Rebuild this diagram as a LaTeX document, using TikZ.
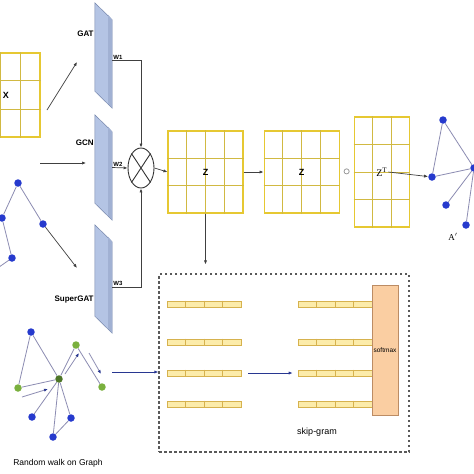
\documentclass[tikz,border=0pt]{standalone}
\usepackage{fontspec}
\setmainfont{Liberation Sans}
\newfontfamily\serifface{Liberation Serif}
\usetikzlibrary{%
    arrows.meta,
    positioning,
    calc,
    shapes.geometric
}

\definecolor{gridgold}{RGB}{230,200,50}
\definecolor{barfill}{RGB}{252,236,170}
\definecolor{baredge}{RGB}{214,178,78}
\definecolor{plateface}{RGB}{180,196,228}
\definecolor{plateedge}{RGB}{118,134,172}
\definecolor{nodeblue}{RGB}{38,58,205}
\definecolor{nodegreen}{RGB}{122,176,62}
\definecolor{hubgreen}{RGB}{78,118,40}
\definecolor{edgegray}{RGB}{140,140,178}
\definecolor{softfill}{RGB}{250,206,162}
\definecolor{softedge}{RGB}{188,140,100}
\definecolor{walkblue}{RGB}{40,55,145}

\begin{document}
\begin{tikzpicture}[x=1pt, y=-1pt,
      mat/.style={rectangle, draw=gridgold, line width=1.1pt, inner sep=0pt,
                  font=\bfseries\fontsize{9}{10}\selectfont},
      cell/.style={draw=gridgold!80!gray, line width=0.8pt},
      platebox/.style={rectangle, inner sep=0pt, minimum width=17pt},
      plate/.style={fill=plateface, draw=plateedge, line width=0.5pt},
      lbl/.style={font=\bfseries\fontsize{8}{9}\selectfont, inner sep=1pt},
      wlbl/.style={font=\bfseries\fontsize{6}{7}\selectfont, inner sep=1pt},
      wire/.style={draw=black!75, line width=0.7pt},
      arr/.style={-{Latex[length=4pt,width=3.2pt]}},
      gnode/.style={circle, fill=nodeblue, inner sep=0pt, minimum size=7.5pt},
      rnode/.style={circle, fill=nodegreen, inner sep=0pt, minimum size=7.5pt},
      gedge/.style={draw=edgegray, line width=0.8pt},
      walk/.style={draw=edgegray, line width=0.8pt,
                   -{Latex[length=4pt,width=3.2pt,color=walkblue]}},
      bar/.style={rectangle, draw=baredge, fill=barfill, line width=0.6pt,
                  inner sep=0pt, minimum width=74pt, minimum height=6pt},
      box/.style={rectangle, draw=black!65, dash pattern=on 2.5pt off 2.5pt,
                  line width=1.2pt, inner sep=0pt,
                  minimum width=250pt, minimum height=178pt}
    ]
      \fill[white] (0,0) rectangle (474,474);
      \clip (0,0) rectangle (474,474);

      % input matrix X
      \node[mat, minimum width=80pt, minimum height=84pt]
        (xmat) at (0,95) {};
      \foreach \i in {1,2,3}
        \draw[cell] ($(xmat.north west)!\i/4!(xmat.north east)$) --
          ($(xmat.south west)!\i/4!(xmat.south east)$);
      \foreach \i in {1,2}
        \draw[cell] ($(xmat.north west)!\i/3!(xmat.south west)$) --
          ($(xmat.north east)!\i/3!(xmat.south east)$);
      \node[font=\bfseries\fontsize{9}{10}\selectfont, inner sep=1pt]
        (xlbl) at (6,95) {X};

      % input graph
      \node[gnode] (t1) at (18,183) {};
      \node[gnode] (t2) at (2,218) {};
      \node[gnode] (t3) at (43,224) {};
      \node[gnode] (t4) at (12,258) {};
      \coordinate (toff) at (-8,272);
      \draw[gedge] (t1) -- (t2);
      \draw[gedge] (t1) -- (t3);
      \draw[gedge] (t2) -- (t4);
      \draw[gedge] (t4) -- (toff);

      % encoders
      \node[platebox, minimum height=105pt] (gat) at (103.5,55.5) {};
      \node[platebox, minimum height=105pt] (gcn) at (103.5,167.5) {};
      \node[platebox, minimum height=108pt] (sgat) at (103.5,279) {};
      \foreach \p in {gat,gcn,sgat} {
        \fill[plate] (\p.north west) -- ($(\p.north east)+(0,17)$) --
          (\p.south east) -- ($(\p.south west)+(0,-17)$) -- cycle;
        \fill[plateface!70!plateedge] ($(\p.north east)+(-4,12)$) --
          ($(\p.north east)+(0,17)$) -- (\p.south east) --
          ($(\p.south east)+(-4,-5)$) -- cycle;
      }
      \node[lbl, anchor=east] (gatlbl) at ([yshift=22pt]gat.west) {GAT};
      \node[lbl, anchor=east] (gcnlbl) at ([yshift=25pt]gcn.west) {GCN};
      \node[lbl, anchor=east] (sgatlbl) at ([yshift=-21pt]sgat.west) {SuperGAT};

      \coordinate (xout) at (47,110);
      \coordinate (gatin) at (77,62);
      \coordinate (gcnsrc) at (40,163);
      \coordinate (gcnin) at (86,163);
      \coordinate (sgatin) at (77,268);
      \draw[wire, arr] (xout) -- (gatin);
      \draw[wire, arr] (gcnsrc) -- (gcnin);
      \draw[wire, arr] (t3) -- (sgatin);

      % fusion
      \node[draw=black!80, line width=0.9pt, ellipse, inner sep=0pt,
        minimum width=26pt, minimum height=40pt] (mult) at (141,168) {};
      \draw[black!80, line width=0.9pt] (mult.north west) -- (mult.south east)
        (mult.north east) -- (mult.south west);

      \draw[wire, arr] ([yshift=-5pt]gat.east) -| (mult.north);
      \draw[wire, arr] (gcn.east) -- (mult.west);
      \draw[wire, arr] ([yshift=-8pt]sgat.east) -| (mult.south);
      \node[wlbl, anchor=south west] (w1) at ([yshift=-5pt]gat.east) {W1};
      \node[wlbl, anchor=south west] (w2) at (gcn.east) {W2};
      \node[wlbl, anchor=south west] (w3) at ([yshift=-8pt]sgat.east) {W3};

      % embeddings
      \node[mat, minimum width=75pt, minimum height=82pt]
        (z1) at (205.5,172) {};
      \node[mat, minimum width=75pt, minimum height=82pt, right=20pt of z1]
        (z2) {};
      \node[mat, minimum width=55pt, minimum height=110pt, right=14pt of z2]
        (zt) {};
      \foreach \m in {z1,z2} {
        \foreach \i in {1,2,3}
          \draw[cell] ($(\m.north west)!\i/4!(\m.north east)$) --
            ($(\m.south west)!\i/4!(\m.south east)$);
        \foreach \i in {1,2}
          \draw[cell] ($(\m.north west)!\i/3!(\m.south west)$) --
            ($(\m.north east)!\i/3!(\m.south east)$);
      }
      \foreach \i in {1,2}
        \draw[cell] ($(zt.north west)!\i/3!(zt.north east)$) --
          ($(zt.south west)!\i/3!(zt.south east)$);
      \foreach \i in {1,2,3}
        \draw[cell] ($(zt.north west)!\i/4!(zt.south west)$) --
          ($(zt.north east)!\i/4!(zt.south east)$);
      \node[font=\bfseries\fontsize{9}{10}\selectfont, inner sep=1pt]
        (z1lbl) at (z1.center) {Z};
      \node[font=\bfseries\fontsize{9}{10}\selectfont, inner sep=1pt]
        (z2lbl) at (z2.center) {Z};
      \node[font=\serifface\fontsize{10}{11}\selectfont, inner sep=1pt]
        (ztlbl) at (zt.center) {Z\textsuperscript{T}};
      \node[font=\fontsize{14}{14}\selectfont, text=black!65]
        (had) at ($(z2.east)!0.5!(zt.west)$) {$\circ$};

      \draw[wire, arr] (mult.east) -- (z1.west);
      \draw[wire, arr] (z1.east) -- (z2.west);

      % reconstructed graph
      \node[gnode] (a1) at (443,120) {};
      \node[gnode] (a2) at (432,177) {};
      \node[gnode] (ah) at (474,168) {};
      \node[gnode] (a4) at (446,205) {};
      \node[gnode] (a5) at (466,225) {};
      \draw[gedge] (a1) -- (ah);
      \draw[gedge] (a1) -- (a2);
      \draw[gedge] (a2) -- (ah);
      \draw[gedge] (a4) -- (ah);
      \draw[gedge] (a5) -- (ah);
      \node[font=\serifface\fontsize{9}{10}\selectfont] (alabel) at (453,237) {A$'$};
      \draw[wire, arr] (ztlbl.east) -- (a2);

      % skip-gram
      \node[box] (sg) at (284,363) {};
      \draw[wire, arr] (z1.south) -- ($(z1.south |- sg.north)+(0,-9)$);
      \foreach \y [count=\i] in {304,342,373,404} {
        \node[bar] (lb\i) at (204,\y) {};
        \node[bar] (rb\i) at (335,\y) {};
        \foreach \b in {lb\i,rb\i}
          \foreach \k in {1,2,3}
            \draw[baredge, line width=0.5pt] ($(\b.north west)!\k/4!(\b.north east)$) --
              ($(\b.south west)!\k/4!(\b.south east)$);
      }
      \node[rectangle, draw=softedge, fill=softfill, inner sep=0pt,
        minimum width=26pt, minimum height=130pt,
        font=\fontsize{6.5}{7}\selectfont] (soft) at (385,350) {softmax};
      \draw[walkblue, line width=0.8pt, arr] ([xshift=7pt]lb3.east) -- ([xshift=-5pt]rb3.west);
      \node[font=\fontsize{9}{10}\selectfont] (sglbl) at (317,432) {skip-gram};

      % random walk
      \node[gnode] (r1) at (31,332) {};
      \node[rnode] (r2) at (76,345) {};
      \node[rnode, fill=hubgreen] (rh) at (59,379) {};
      \node[rnode] (r3) at (18,388) {};
      \node[rnode] (r4) at (102,387) {};
      \node[gnode] (r5) at (32,417) {};
      \node[gnode] (r6) at (53,437) {};
      \node[gnode] (r7) at (71,418) {};
      \draw[gedge] (r1) -- (rh);
      \draw[gedge] (r1) -- (r3);
      \draw[gedge] (r3) -- (rh);
      \draw[gedge] (rh) -- (r2);
      \draw[gedge] (r2) -- (r4);
      \draw[gedge] (rh) -- (r5);
      \draw[gedge] (rh) -- (r6);
      \draw[gedge] (rh) -- (r7);
      \draw[gedge] (r6) -- (r7);
      \draw[walk] ([shift={(4,9)}]r3.center) -- ([shift={(-11,10)}]rh.center);
      \draw[walk] ([shift={(6,-5)}]rh.center) -- ([shift={(3,8)}]r2.center);
      \draw[walk] ([shift={(13,8)}]r2.center) -- ([shift={(-1,-13)}]r4.center);
      \node[font=\fontsize{8.5}{9}\selectfont] (rwlbl) at (58,463) {Random walk on Graph};

      \coordinate (rwout) at (112,372);
      \draw[walkblue, line width=0.8pt, arr] (rwout) -- (rwout -| sg.west);
    \end{tikzpicture}
\end{document}
